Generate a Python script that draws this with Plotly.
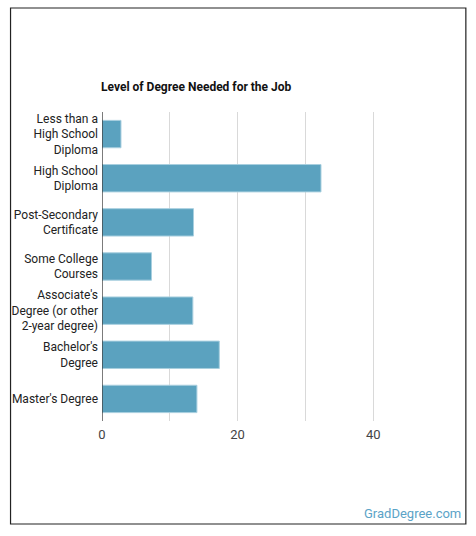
import plotly.graph_objects as go

# Data
categories = [
    'Less than a<br>High School<br>Diploma',
    'High School<br>Diploma',
    'Post-Secondary<br>Certificate',
    'Some College<br>Courses',
    "Associate's<br>Degree (or other<br>2-year degree)",
    "Bachelor's<br>Degree",
    "Master's Degree",
]
percent_values = [2.8, 32.3, 13.5, 7.3, 13.4, 17.3, 14.0]
tick_values = [0, 10, 20, 30, 40]
tick_labels = ['0', '', '20', '', '40']

W, H = 476, 536
left, right, top, bottom = 100, 441, 112, 421

fig = go.Figure()
fig.add_trace(go.Bar(
    x=percent_values, y=categories, orientation='h',
    marker=dict(color='#5ba2bf', line=dict(color='#a8cfdf', width=1)),
    hoverinfo='x+y',
))

def px_x(p):
    return (p - left) / (right - left)

def px_y(p):
    return (bottom - p) / (bottom - top)

fig.update_layout(
    width=W, height=H,
    margin=dict(l=left, r=W - right, t=top, b=H - bottom),
    paper_bgcolor='white', plot_bgcolor='white',
    font=dict(family='Roboto, Arial, sans-serif', size=12, color='#222'),
    showlegend=False,
    bargap=0.38,
    xaxis=dict(range=[0, 50], tickvals=tick_values, ticktext=tick_labels,
               showgrid=True, gridcolor='#d9d9d9', gridwidth=1,
               zeroline=False, showline=False, ticks='', ticklabelstandoff=4,
               tickfont=dict(size=13, color='#444'), fixedrange=True),
    yaxis=dict(autorange='reversed', showgrid=False, zeroline=False,
               showline=False, ticks='', ticklabelstandoff=3,
               tickfont=dict(size=12, color='#222'), fixedrange=True),
    shapes=[
        # outer frame
        dict(type='rect', xref='paper', yref='paper',
             x0=px_x(8), x1=px_x(466), y0=px_y(524), y1=px_y(8),
             line=dict(color='#222', width=1.2), fillcolor='rgba(0,0,0,0)'),
        # y axis line
        dict(type='line', xref='x', yref='paper', x0=0, x1=0, y0=0, y1=1,
             line=dict(color='#222', width=1.2)),
    ],
    annotations=[
        dict(text='<b>Level of Degree Needed for the Job</b>', xref='paper', yref='paper',
             x=px_x(97), y=px_y(87), xanchor='left', yanchor='middle', showarrow=False,
             font=dict(size=12, color='#111')),
        dict(text='GradDegree.com', xref='paper', yref='paper',
             x=px_x(463), y=px_y(513), xanchor='right', yanchor='middle', showarrow=False,
             font=dict(size=13, color='#5ba3c7')),
    ],
)

# page body has a default 8px margin; drop it so the figure sits at the corner
fig.write_html("out.html", config={'displayModeBar': False},
               post_script="document.body.style.margin='0';")
